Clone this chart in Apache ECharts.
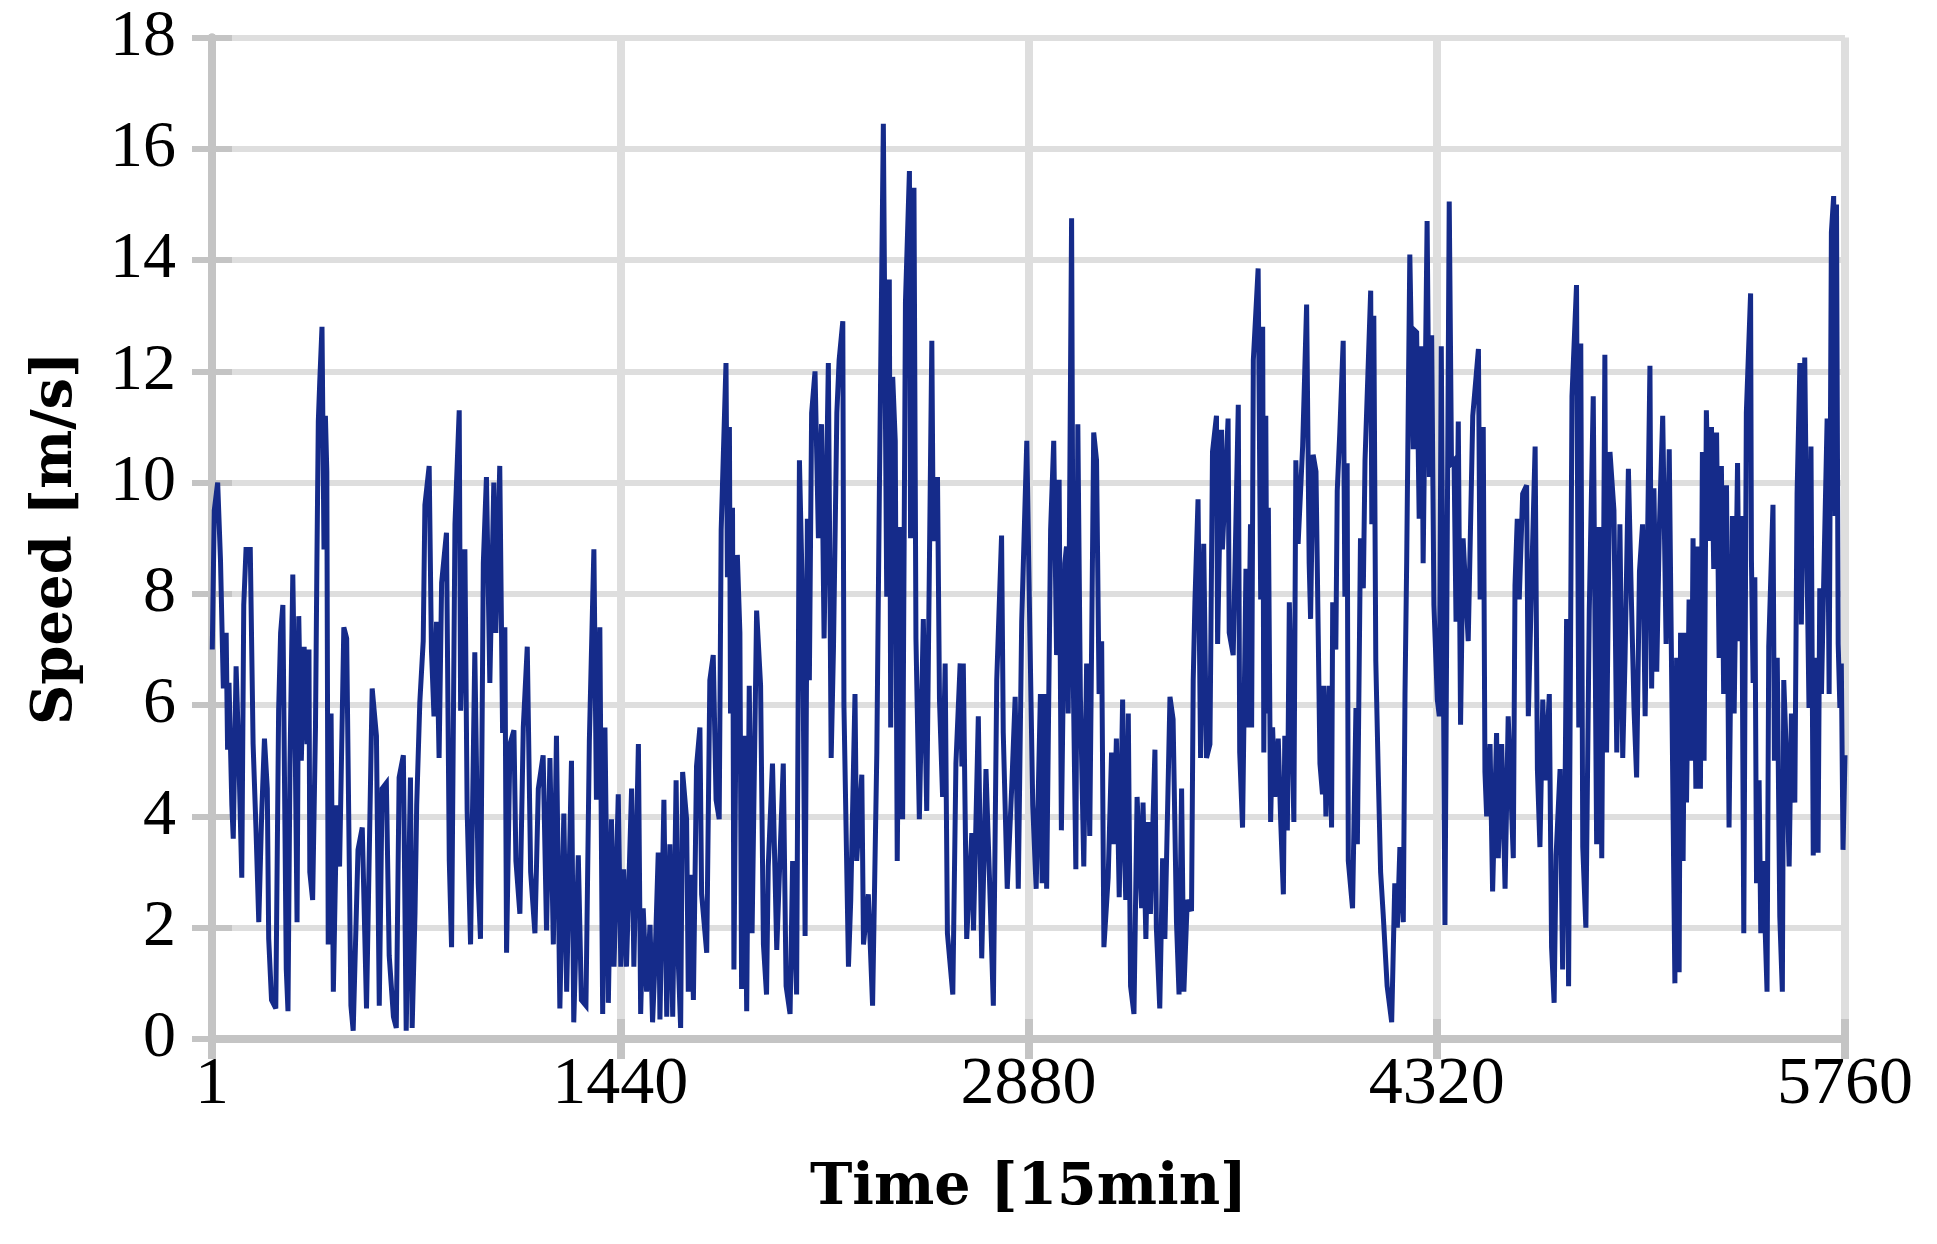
<!DOCTYPE html>
<html>
<head>
<meta charset="utf-8">
<script src="https://cdn.jsdelivr.net/npm/echarts@6/dist/echarts.min.js"></script>
<style>html,body{margin:0;padding:0;background:#fff;}#chart{width:1937px;height:1244px;}</style>
</head>
<body>
<div id="chart"></div>
<script>
// Time index (15-min steps) of the read-off points
const times = [
1,8,20,30,40,50,55,60,70,75,85,95,105,112,120,135,145,155,165,175,185,195,200,210,225,235,242,250,262,268,275,285,292,300,306,315,325,335,342,345,355,365,370,375,380,388,395,400,405,410,420,428,440,450,465,475,490,498,515,530,545,565,580,590,600,615,625,640,650,660,675,685,695,700,706,
716,722,733,745,751,766,774,783,792,801,810,827,837,845,857,872,877,892,900,912,927,939,947,957,968,980,994,1001,1015,1025,1033,1039,1051,1065,1072,1086,1098,1112,1124,1139,1151,1168,1180,1192,1204,1215,1227,1241,1251,1268,1276,1292,1303,1319,1331,1347,1356,1368,1378,1386,1398,1409,1418,1433,
1442,1452,1462,1480,1488,1504,1512,1521,1533,1545,1554,1562,1574,1580,1594,1604,1615,1625,1637,1645,1653,1660,1674,1680,1688,1698,1709,1721,1727,1745,1756,1768,1778,1789,1796,1813,1818,1825,1829,1836,1841,1853,1862,1868,1876,1886,1895,1905,1921,1935,1945,1956,1962,1977,1992,2015,2025,2039,2048,2062,2072,2083,2092,2100,2107,2115,2127,2139,2150,2159,2174,2184,
2192,2204,2212,2225,2229,2245,2253,2268,2274,2292,2298,2315,2330,2345,2354,2368,2380,2389,2394,2401,2410,2417,2427,2436,2446,2460,2464,2476,2483,2495,2509,2521,2539,2544,2559,2566,2577,2586,2594,2613,2624,2639,2645,2650,2662,2680,2686,2703,2715,2730,2742,2756,2768,2785,2791,2805,2821,2833,2844,2856,2874,2885,2895,2907,2915,
2922,2928,2938,2944,2958,2969,2979,2988,2996,3008,3014,3020,3032,3038,3047,3054,3063,3075,3085,3096,3110,3120,3129,3138,3146,3161,3173,3181,3190,3200,3212,3216,3223,3232,3240,3252,3263,3279,3284,3294,3302,3310,3326,3331,3343,3353,3361,3379,3390,3402,3411,3420,3428,3440,3455,3461,3467,3478,3487,3498,3508,3520,3529,3543,3547,3561,3564,3584,3588,3602,3620,3625,3635,3647,3654,3663,
3667,3673,3690,3699,3706,3710,3717,3722,3726,3734,3741,3749,3761,3769,3779,3784,3793,3800,3816,3823,3831,3847,3861,3870,3875,3884,3894,3902,3908,3917,3922,3929,3941,3949,3953,3964,3969,3978,3990,3996,4004,4008,4023,4035,4040,4051,4061,4067,4087,4091,4098,4105,4114,4122,4131,4145,4161,4172,4181,4190,4202,4208,4214,4225,4237,4239,4249,4258,4267,4272,4286,4294,4302,4310,4322,4329,4336,4349,4364,4372,4381,4388,4396,4404,4413,
4431,4447,4467,4473,4484,4490,4496,4508,4517,4531,4537,4549,4561,4572,4590,4596,4604,4611,4623,4637,4643,4655,4667,4675,4684,4694,4702,4717,4725,4734,4741,4755,4764,4772,4778,4785,4797,4813,4821,4828,4835,4846,4858,4872,4884,4893,4902,4913,4919,4931,4945,4955,4966,4976,4984,4996,5007,5016,5025,5035,5046,5055,5072,5078,5086,5096,5105,5117,5129,5140,
5160,5166,5175,5180,5189,5195,5201,5210,5218,5224,5234,5242,5250,5257,5263,5271,5281,5289,5297,5307,5316,5324,5332,5342,5351,5363,5369,5381,5387,5395,5403,5412,5427,5430,5436,5442,5448,5457,5463,5471,5485,5491,5506,5511,5521,5530,5539,5544,5553,5563,5571,5583,5591,5601,5606,5618,5626,5633,5640,5648,5653,5665,5671,5677,5685,5697,5704,5712,5720,5725,5730,5736,5742,5747,5753,5760
];
// Wind speed [m/s] at those times
const speeds = [
7.0,9.5,10.0,8.6,6.3,7.3,5.2,6.4,4.2,3.6,6.7,5.0,2.9,7.8,8.8,8.8,5.3,3.8,2.1,4.0,5.4,4.5,1.8,0.7,0.55,5.9,7.3,7.8,1.25,0.5,4.9,8.35,6.0,2.1,7.6,5.0,7.05,5.3,7.0,3.0,2.5,5.6,8.55,11.1,11.8,12.8,8.8,11.2,10.2,1.7,5.85,0.85,4.2,3.1,7.4,7.2,0.6,0.15,3.4,3.8,0.55,6.3,5.45,0.6,4.5,4.6,1.5,0.4,0.2,4.7,5.1,0.15,3.2,4.7,0.2,
2.25,4.2,6.05,7.15,9.6,10.3,7.0,5.8,7.5,5.05,8.2,9.1,3.2,1.65,9.25,11.3,5.9,8.8,4.1,1.7,6.95,2.8,1.8,8.55,10.1,6.4,10.0,7.3,10.3,5.5,7.4,1.55,5.3,5.55,3.2,2.25,5.6,7.05,3.0,1.9,4.5,5.1,1.95,5.05,1.7,5.45,0.55,4.05,0.85,5.0,0.3,3.3,0.7,0.6,5.35,8.8,4.3,7.4,0.45,5.6,0.65,3.95,1.3,4.4,
1.3,3.05,1.3,4.5,1.3,5.3,0.45,2.35,0.85,2.05,0.3,1.3,3.35,0.35,4.3,0.4,3.5,0.4,4.65,1.35,0.2,4.8,3.95,0.85,2.95,0.7,4.9,5.6,2.6,1.55,6.45,6.9,4.3,3.95,9.15,12.15,8.3,11.0,5.85,9.55,1.25,8.7,7.3,0.9,5.45,0.5,6.35,1.9,7.7,6.35,1.7,0.8,3.1,4.95,1.6,4.95,0.95,0.45,3.2,0.8,10.4,7.85,1.85,9.35,6.45,11.25,12.0,9.0,11.05,7.2,12.15,5.05,
7.0,11.25,12.2,12.9,6.0,1.3,2.5,6.2,3.2,4.75,1.7,2.6,0.6,5.15,9.85,16.45,7.95,13.65,5.6,11.9,10.75,3.2,9.2,3.95,13.25,15.6,9.0,15.3,7.2,3.95,7.55,4.1,12.55,8.95,10.1,6.1,4.35,6.75,1.9,0.8,4.95,6.75,4.9,6.75,1.8,3.7,1.95,5.8,1.45,4.85,2.95,0.6,6.45,9.05,5.5,2.7,4.55,6.15,2.7,7.5,10.75,7.25,4.2,2.7,4.55,
6.2,2.8,6.2,2.7,9.15,10.75,6.9,10.05,3.75,8.55,8.85,5.85,14.75,6.45,3.05,11.05,6.15,3.1,6.75,3.65,10.9,10.4,6.2,7.15,1.65,2.9,5.15,3.5,5.4,2.55,6.1,4.0,2.5,5.85,0.95,0.45,4.35,2.35,4.25,1.8,3.9,2.25,5.2,2.0,0.55,3.25,1.8,6.15,5.75,2.1,0.8,4.5,0.85,2.5,2.3,6.45,7.85,9.7,5.05,8.9,5.05,5.3,10.55,11.2,7.1,10.95,8.8,11.15,7.3,6.9,11.4,5.15,3.8,8.45,5.6,9.25,
5.6,12.2,13.85,7.9,12.8,5.15,11.2,5.85,9.55,3.9,5.6,4.35,5.4,4.0,2.6,5.45,3.75,7.85,3.9,10.4,8.9,10.65,13.2,8.55,7.55,10.5,10.2,7.25,4.95,4.4,6.35,4.0,6.35,3.8,7.85,7.0,9.85,10.9,12.55,7.95,10.35,3.2,2.35,5.95,3.5,9.0,8.1,10.4,13.45,9.25,13.0,6.8,4.7,3.0,2.25,0.95,0.3,2.8,2.0,3.45,2.1,6.2,8.6,14.1,10.6,12.75,12.7,9.35,12.45,8.55,14.7,10.1,12.65,7.8,6.1,5.8,12.45,2.05,15.05,10.35,10.4,7.5,11.1,5.65,9.0,
7.15,11.2,12.4,7.9,11.0,4.8,4.0,5.3,2.65,5.5,3.25,5.3,2.7,5.8,3.25,8.15,9.35,7.9,9.8,9.95,5.8,8.3,10.65,4.85,3.45,6.1,4.65,6.2,1.65,0.65,3.3,4.85,1.25,4.15,7.55,0.95,11.55,13.55,5.6,12.5,3.45,2.0,7.7,11.55,3.5,9.2,3.25,12.3,5.15,10.55,9.5,5.15,9.25,5.05,6.8,10.25,7.8,5.9,4.7,8.4,9.25,5.8,12.1,6.3,9.9,6.6,9.15,11.2,7.1,10.6,
1.0,6.85,1.2,7.3,3.2,7.3,4.25,7.9,5.0,9.0,4.5,8.85,4.5,10.55,5.0,11.3,8.95,11.0,8.45,10.9,6.85,10.3,6.2,9.95,3.8,9.4,5.85,10.35,7.15,9.4,1.9,11.25,13.4,8.6,6.4,8.3,2.8,4.65,1.9,3.2,0.85,7.05,9.6,5.0,6.85,2.2,0.85,6.45,5.15,3.1,5.85,4.25,9.8,12.15,7.45,12.25,8.55,5.95,10.65,3.3,6.85,3.35,8.1,6.2,8.25,11.15,6.2,14.5,15.15,9.4,15.0,7.1,5.95,6.75,3.4,5.1
];
const xTickValues = [0, 1440, 2880, 4320, 5760];
const xTitle = 'Time [15min]';
const yTitle = 'Speed [m/s]';

const seriesData = times.map((t, i) => [t, speeds[i]]);
const borderColor = '#c4c4c4';
const gridColor = '#dedede';

const chart = echarts.init(document.getElementById('chart'), null, {renderer: 'canvas'});
chart.setOption({
  animation: false,
  backgroundColor: '#ffffff',
  grid: {left: 212, right: 92, top: 37.5, bottom: 205, containLabel: false},
  xAxis: [{
    type: 'value', position: 'bottom', min: 0, max: 5760, interval: 1440,
    axisLine: {show: true, lineStyle: {color: borderColor, width: 8}},
    axisTick: {show: true, inside: true, length: 20, lineStyle: {color: borderColor, width: 8}},
    splitLine: {show: true, lineStyle: {color: gridColor, width: 8}},
    axisLabel: {
      margin: 12, color: '#000', fontFamily: 'Liberation Serif', fontSize: 68,
      formatter: v => (v === 0 ? '1' : String(v))
    },
    name: xTitle, nameLocation: 'middle', nameGap: 122,
    nameTextStyle: {color: '#000', fontFamily: 'DejaVu Serif', fontWeight: 'bold', fontSize: 57}
  }, {
    type: 'value', position: 'top', min: 0, max: 5760, interval: 1440,
    axisLine: {show: true, lineStyle: {color: borderColor, width: 8}},
    axisTick: {show: true, inside: true, length: 20, lineStyle: {color: borderColor, width: 8}},
    splitLine: {show: false}, axisLabel: {show: false}
  }],
  yAxis: [{
    type: 'value', position: 'left', min: 0, max: 18, interval: 2,
    axisLine: {show: true, lineStyle: {color: borderColor, width: 8}},
    axisTick: {show: true, inside: true, length: 20, lineStyle: {color: borderColor, width: 6}},
    splitLine: {show: true, lineStyle: {color: gridColor, width: 6}},
    axisLabel: {margin: 36, color: '#000', fontFamily: 'Liberation Serif', fontSize: 66},
    name: yTitle, nameLocation: 'middle', nameGap: 128,
    nameTextStyle: {color: '#000', fontFamily: 'DejaVu Serif', fontWeight: 'bold', fontSize: 56}
  }, {
    type: 'value', position: 'right', min: 0, max: 18, interval: 2,
    axisLine: {show: true, lineStyle: {color: borderColor, width: 8}},
    axisTick: {show: true, inside: true, length: 20, lineStyle: {color: borderColor, width: 6}},
    splitLine: {show: false}, axisLabel: {show: false}
  }],
  series: [{
    type: 'line', xAxisIndex: 0, yAxisIndex: 0,
    data: seriesData, showSymbol: false, symbol: 'none', sampling: null,
    lineStyle: {color: '#152b8a', width: 5, join: 'miter', miterLimit: 4},
    z: 1
  }]
});
</script>
</body>
</html>
